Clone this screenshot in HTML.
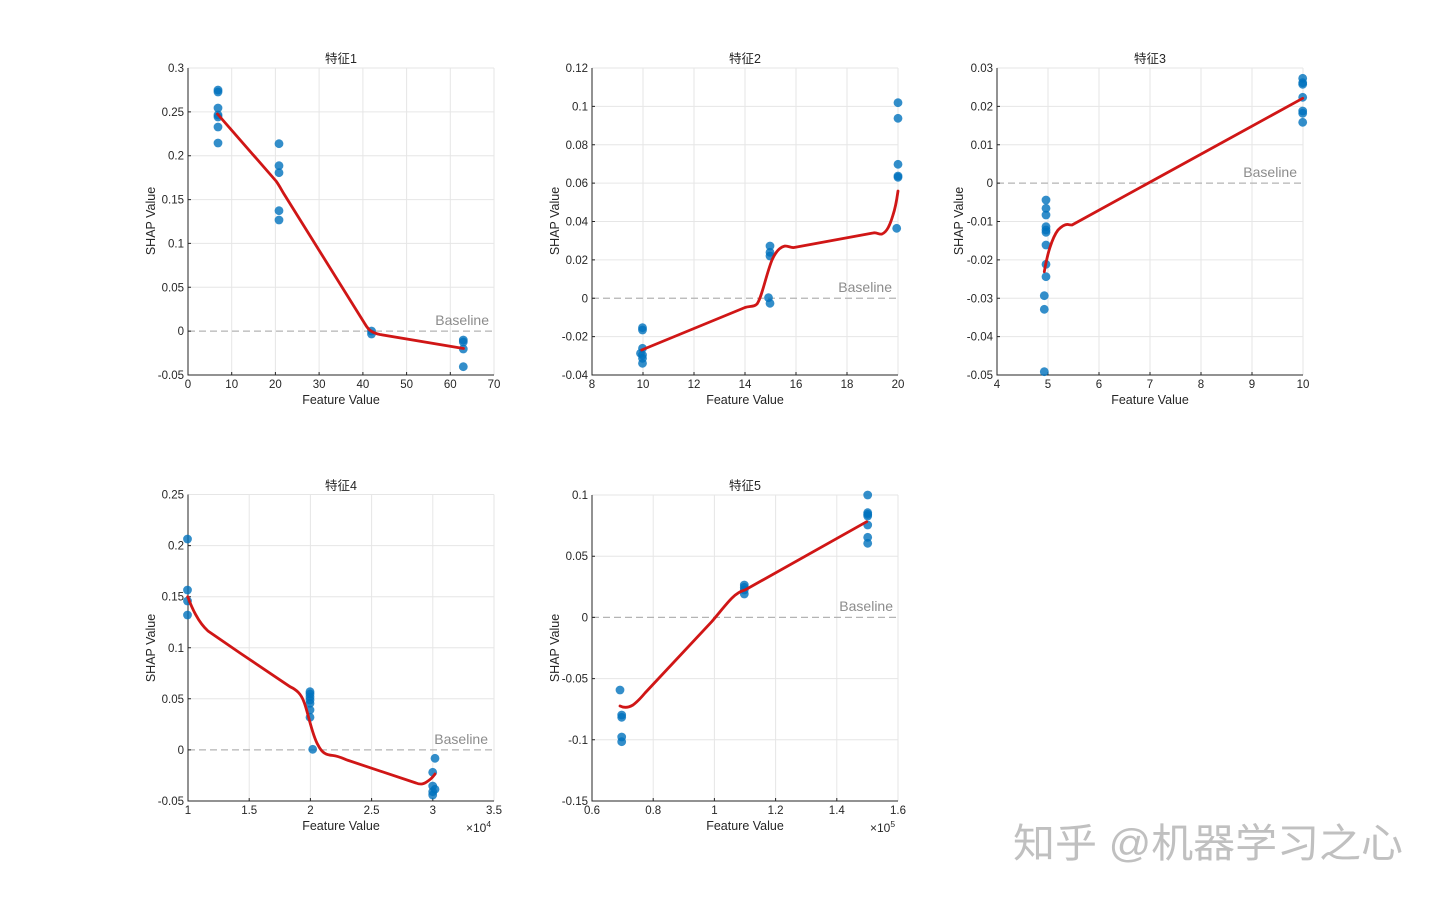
<!DOCTYPE html>
<html><head><meta charset="utf-8"><style>
html,body{margin:0;padding:0;background:#fff;}
svg{display:block;}
text{font-family:"Liberation Sans","Noto Sans CJK SC",sans-serif;fill:#262626;}
.tk{font-size:11.5px;}
.yt{text-anchor:end;}
.xt{text-anchor:middle;}
.ttl{font-size:12.5px;text-anchor:middle;}
.lab{font-size:12.5px;text-anchor:middle;}
.bl{font-size:14px;fill:#8c8c8c;text-anchor:end;}
.ex{font-size:12px;}
.grid{stroke:#e6e6e6;stroke-width:1;fill:none;}
.ax{stroke:#262626;stroke-width:1;fill:none;}
.tick{stroke:#262626;stroke-width:1;}
.base{stroke:#b4b4b4;stroke-width:1.2;stroke-dasharray:7 4;}
.dots circle{fill:#0072BD;fill-opacity:0.8;}
.fit{stroke:#d01616;stroke-width:2.8;fill:none;stroke-linejoin:round;stroke-linecap:round;}
.wm{font-size:40px;fill:#c0c0c0;font-family:"Liberation Sans","Noto Sans CJK SC",sans-serif;}
</style></head><body>
<svg width="1440" height="900" viewBox="0 0 1440 900" xmlns="http://www.w3.org/2000/svg">

<!-- ============ PLOT 1 ============ -->
<g>
<path class="grid" d="M231.7,68V375M275.4,68V375M319.1,68V375M362.9,68V375M406.6,68V375M450.3,68V375M494,68V375M188,68H494M188,111.9H494M188,155.7H494M188,199.6H494M188,243.4H494M188,287.3H494"/>
<line class="base" x1="188" y1="331.1" x2="494" y2="331.1"/>
<path class="tick" d="M188,111.9h3M188,155.7h3M188,199.6h3M188,243.4h3M188,287.3h3M188,331.1h3M231.7,375v-3M275.4,375v-3M319.1,375v-3M362.9,375v-3M406.6,375v-3M450.3,375v-3"/>
<path class="ax" d="M188,68V375H494"/>
<g class="tk yt">
<text x="184" y="72">0.3</text><text x="184" y="115.9">0.25</text><text x="184" y="159.7">0.2</text><text x="184" y="203.6">0.15</text><text x="184" y="247.4">0.1</text><text x="184" y="291.3">0.05</text><text x="184" y="335.1">0</text><text x="184" y="379">-0.05</text>
</g>
<g class="tk xt">
<text x="188" y="388">0</text><text x="231.7" y="388">10</text><text x="275.4" y="388">20</text><text x="319.1" y="388">30</text><text x="362.9" y="388">40</text><text x="406.6" y="388">50</text><text x="450.3" y="388">60</text><text x="494" y="388">70</text>
</g>
<text class="ttl" x="341" y="63">特征1</text>
<text class="lab" x="341" y="404">Feature Value</text>
<text class="lab" transform="translate(155,221) rotate(-90)">SHAP Value</text>
<text class="bl" x="489" y="325">Baseline</text>
<g class="dots">
<circle cx="218" cy="90" r="4.4"/><circle cx="218" cy="92" r="4.4"/><circle cx="218" cy="108" r="4.4"/><circle cx="218" cy="115" r="4.4"/><circle cx="218" cy="117" r="4.4"/><circle cx="218" cy="127" r="4.4"/><circle cx="218" cy="143" r="4.4"/>
<circle cx="279" cy="143.7" r="4.4"/><circle cx="279" cy="165.7" r="4.4"/><circle cx="279" cy="172.7" r="4.4"/><circle cx="279" cy="210.7" r="4.4"/><circle cx="279" cy="220" r="4.4"/>
<circle cx="371.5" cy="331" r="4.4"/><circle cx="371.5" cy="334" r="4.4"/>
<circle cx="463.3" cy="340" r="4.4"/><circle cx="463.3" cy="342" r="4.4"/><circle cx="463.3" cy="349" r="4.4"/><circle cx="463.3" cy="366.7" r="4.4"/>
</g>
<path class="fit" d="M217.5,114 L276,181 C279,185 281,189 284,194 L365,324 C369,331 373,333 380,334.5 L463.5,348.5"/>
</g>

<!-- ============ PLOT 2 ============ -->
<g>
<path class="grid" d="M643,68V375M694,68V375M745,68V375M796,68V375M847,68V375M898,68V375M592,68H898M592,106.4H898M592,144.75H898M592,183.1H898M592,221.5H898M592,259.9H898M592,336.6H898"/>
<line class="base" x1="592" y1="298.25" x2="898" y2="298.25"/>
<path class="tick" d="M592,106.4h3M592,144.75h3M592,183.1h3M592,221.5h3M592,259.9h3M592,298.25h3M592,336.6h3M643,375v-3M694,375v-3M745,375v-3M796,375v-3M847,375v-3"/>
<path class="ax" d="M592,68V375H898"/>
<g class="tk yt">
<text x="588" y="72">0.12</text><text x="588" y="110.4">0.1</text><text x="588" y="148.75">0.08</text><text x="588" y="187.1">0.06</text><text x="588" y="225.5">0.04</text><text x="588" y="263.9">0.02</text><text x="588" y="302.25">0</text><text x="588" y="340.6">-0.02</text><text x="588" y="379">-0.04</text>
</g>
<g class="tk xt">
<text x="592" y="388">8</text><text x="643" y="388">10</text><text x="694" y="388">12</text><text x="745" y="388">14</text><text x="796" y="388">16</text><text x="847" y="388">18</text><text x="898" y="388">20</text>
</g>
<text class="ttl" x="745" y="63">特征2</text>
<text class="lab" x="745" y="404">Feature Value</text>
<text class="lab" transform="translate(559,221) rotate(-90)">SHAP Value</text>
<text class="bl" x="892" y="292">Baseline</text>
<g class="dots">
<circle cx="642.5" cy="327.7" r="4.4"/><circle cx="642.5" cy="330" r="4.4"/><circle cx="642.5" cy="348.3" r="4.4"/><circle cx="640.5" cy="353.3" r="4.4"/><circle cx="642.5" cy="355" r="4.4"/><circle cx="642.5" cy="358.3" r="4.4"/><circle cx="642.5" cy="363.3" r="4.4"/>
<circle cx="770" cy="246" r="4.4"/><circle cx="770" cy="252.3" r="4.4"/><circle cx="770" cy="256" r="4.4"/><circle cx="768.5" cy="297.7" r="4.4"/><circle cx="770" cy="303.3" r="4.4"/>
<circle cx="898" cy="102.7" r="4.4"/><circle cx="898" cy="118.3" r="4.4"/><circle cx="898" cy="164.3" r="4.4"/><circle cx="898" cy="176" r="4.4"/><circle cx="898" cy="177.3" r="4.4"/><circle cx="896.7" cy="228.3" r="4.4"/>
</g>
<path class="fit" d="M641.7,350 L745,307.5 C750,306 754,307 757,304 C762,297 766,275 772,260 C776,251 780,247 785,246 C789,246 791,248 794,247.5 L873,233 C877,232 879,235 882,234 C887,232 890,225 893,215 C896,206 897,198 898,191"/>
</g>

<!-- ============ PLOT 3 ============ -->
<g>
<path class="grid" d="M1048,68V375M1099,68V375M1150,68V375M1201,68V375M1252,68V375M1303,68V375M997,68H1303M997,106.4H1303M997,144.75H1303M997,221.5H1303M997,259.9H1303M997,298.25H1303M997,336.6H1303"/>
<line class="base" x1="997" y1="183.1" x2="1303" y2="183.1"/>
<path class="tick" d="M997,106.4h3M997,144.75h3M997,183.1h3M997,221.5h3M997,259.9h3M997,298.25h3M997,336.6h3M1048,375v-3M1099,375v-3M1150,375v-3M1201,375v-3M1252,375v-3"/>
<path class="ax" d="M997,68V375H1303"/>
<g class="tk yt">
<text x="993" y="72">0.03</text><text x="993" y="110.4">0.02</text><text x="993" y="148.75">0.01</text><text x="993" y="187.1">0</text><text x="993" y="225.5">-0.01</text><text x="993" y="263.9">-0.02</text><text x="993" y="302.25">-0.03</text><text x="993" y="340.6">-0.04</text><text x="993" y="379">-0.05</text>
</g>
<g class="tk xt">
<text x="997" y="388">4</text><text x="1048" y="388">5</text><text x="1099" y="388">6</text><text x="1150" y="388">7</text><text x="1201" y="388">8</text><text x="1252" y="388">9</text><text x="1303" y="388">10</text>
</g>
<text class="ttl" x="1150" y="63">特征3</text>
<text class="lab" x="1150" y="404">Feature Value</text>
<text class="lab" transform="translate(963,221) rotate(-90)">SHAP Value</text>
<text class="bl" x="1297" y="177">Baseline</text>
<g class="dots">
<circle cx="1046" cy="200" r="4.4"/><circle cx="1046" cy="208.3" r="4.4"/><circle cx="1046" cy="215" r="4.4"/><circle cx="1046" cy="226.7" r="4.4"/><circle cx="1046" cy="230" r="4.4"/><circle cx="1046" cy="232.3" r="4.4"/><circle cx="1046" cy="245" r="4.4"/><circle cx="1046" cy="264.3" r="4.4"/><circle cx="1046" cy="276.7" r="4.4"/>
<circle cx="1044.3" cy="295.7" r="4.4"/><circle cx="1044.3" cy="309.3" r="4.4"/><circle cx="1044.3" cy="371.7" r="4.4"/>
<circle cx="1302.7" cy="78.3" r="4.4"/><circle cx="1302.7" cy="82.7" r="4.4"/><circle cx="1302.7" cy="84.3" r="4.4"/><circle cx="1302.7" cy="97.3" r="4.4"/><circle cx="1302.7" cy="111" r="4.4"/><circle cx="1302.7" cy="113.3" r="4.4"/><circle cx="1302.7" cy="122.3" r="4.4"/>
</g>
<path class="fit" d="M1044.3,271.7 C1047,255 1052,238 1058,230 C1062,226 1065,224 1068,224.5 C1070,225 1071,225 1072,225 L1302.7,98.3"/>
</g>

<!-- ============ PLOT 4 ============ -->
<g>
<path class="grid" d="M249.2,494.5V801M310.4,494.5V801M371.6,494.5V801M432.8,494.5V801M494,494.5V801M188,494.5H494M188,545.6H494M188,596.7H494M188,647.75H494M188,698.8H494"/>
<line class="base" x1="188" y1="749.9" x2="494" y2="749.9"/>
<path class="tick" d="M188,545.6h3M188,596.7h3M188,647.75h3M188,698.8h3M188,749.9h3M249.2,801v-3M310.4,801v-3M371.6,801v-3M432.8,801v-3"/>
<path class="ax" d="M188,494.5V801H494"/>
<g class="tk yt">
<text x="184" y="498.5">0.25</text><text x="184" y="549.6">0.2</text><text x="184" y="600.7">0.15</text><text x="184" y="651.75">0.1</text><text x="184" y="702.8">0.05</text><text x="184" y="753.9">0</text><text x="184" y="805">-0.05</text>
</g>
<g class="tk xt">
<text x="188" y="814">1</text><text x="249.2" y="814">1.5</text><text x="310.4" y="814">2</text><text x="371.6" y="814">2.5</text><text x="432.8" y="814">3</text><text x="494" y="814">3.5</text>
</g>
<text class="ex" x="466" y="832">×10<tspan font-size="8.5" dy="-5">4</tspan></text>
<text class="ttl" x="341" y="490">特征4</text>
<text class="lab" x="341" y="830">Feature Value</text>
<text class="lab" transform="translate(155,648) rotate(-90)">SHAP Value</text>
<text class="bl" x="488" y="744">Baseline</text>
<g class="dots">
<circle cx="187.5" cy="539" r="4.4"/><circle cx="187.5" cy="590" r="4.4"/><circle cx="187.5" cy="601" r="4.4"/><circle cx="187.5" cy="615" r="4.4"/>
<circle cx="310" cy="691.7" r="4.4"/><circle cx="310" cy="694" r="4.4"/><circle cx="310" cy="697" r="4.4"/><circle cx="310" cy="700" r="4.4"/><circle cx="310" cy="703.3" r="4.4"/><circle cx="310" cy="710" r="4.4"/><circle cx="310" cy="717.3" r="4.4"/><circle cx="312.7" cy="749.3" r="4.4"/>
<circle cx="435" cy="758.3" r="4.4"/><circle cx="432.7" cy="772.3" r="4.4"/><circle cx="432.7" cy="786" r="4.4"/><circle cx="435" cy="789.3" r="4.4"/><circle cx="432.7" cy="791.7" r="4.4"/><circle cx="432.7" cy="795" r="4.4"/>
</g>
<path class="fit" d="M187.7,596.7 C192,608 198,622 208,631 L240,653 L290,686.7 C297,690 301,694 304,702 C308,712 312,735 318,745 C322,753 326,755 333,755.5 C338,756 342,758 347,760 L416,783 C421,785 424,784 428,781 C431,779 433,777 435,774"/>
</g>

<!-- ============ PLOT 5 ============ -->
<g>
<path class="grid" d="M653.2,495V801M714.4,495V801M775.6,495V801M836.8,495V801M898,495V801M592,495H898M592,556.2H898M592,678.6H898M592,739.8H898"/>
<line class="base" x1="592" y1="617.4" x2="898" y2="617.4"/>
<path class="tick" d="M592,556.2h3M592,617.4h3M592,678.6h3M592,739.8h3M653.2,801v-3M714.4,801v-3M775.6,801v-3M836.8,801v-3"/>
<path class="ax" d="M592,495V801H898"/>
<g class="tk yt">
<text x="588" y="499">0.1</text><text x="588" y="560.2">0.05</text><text x="588" y="621.4">0</text><text x="588" y="682.6">-0.05</text><text x="588" y="743.8">-0.1</text><text x="588" y="805">-0.15</text>
</g>
<g class="tk xt">
<text x="592" y="814">0.6</text><text x="653.2" y="814">0.8</text><text x="714.4" y="814">1</text><text x="775.6" y="814">1.2</text><text x="836.8" y="814">1.4</text><text x="898" y="814">1.6</text>
</g>
<text class="ex" x="870" y="832">×10<tspan font-size="8.5" dy="-5">5</tspan></text>
<text class="ttl" x="745" y="490">特征5</text>
<text class="lab" x="745" y="830">Feature Value</text>
<text class="lab" transform="translate(559,648) rotate(-90)">SHAP Value</text>
<text class="bl" x="893" y="611">Baseline</text>
<g class="dots">
<circle cx="620" cy="690" r="4.4"/><circle cx="621.7" cy="715" r="4.4"/><circle cx="621.7" cy="717.3" r="4.4"/><circle cx="621.7" cy="737" r="4.4"/><circle cx="621.7" cy="741.7" r="4.4"/>
<circle cx="744.3" cy="585" r="4.4"/><circle cx="744.3" cy="587.3" r="4.4"/><circle cx="744.3" cy="590" r="4.4"/><circle cx="744.3" cy="594" r="4.4"/>
<circle cx="867.7" cy="495" r="4.4"/><circle cx="867.7" cy="512.7" r="4.4"/><circle cx="867.7" cy="514.3" r="4.4"/><circle cx="867.7" cy="516" r="4.4"/><circle cx="867.7" cy="525" r="4.4"/><circle cx="867.7" cy="537.3" r="4.4"/><circle cx="867.7" cy="543.3" r="4.4"/>
</g>
<path class="fit" d="M620,706 C624,708 628,708 633,705 C637,702 640,699 645,693 L711.7,621.7 C720,612 726,604 732,598 C737,593 741,591 745,590 L866.7,521.7"/>
</g>

<!-- watermark -->
<text class="wm" x="1013" y="857" textLength="390" lengthAdjust="spacingAndGlyphs">知乎 @机器学习之心</text>
</svg>
</body></html>
